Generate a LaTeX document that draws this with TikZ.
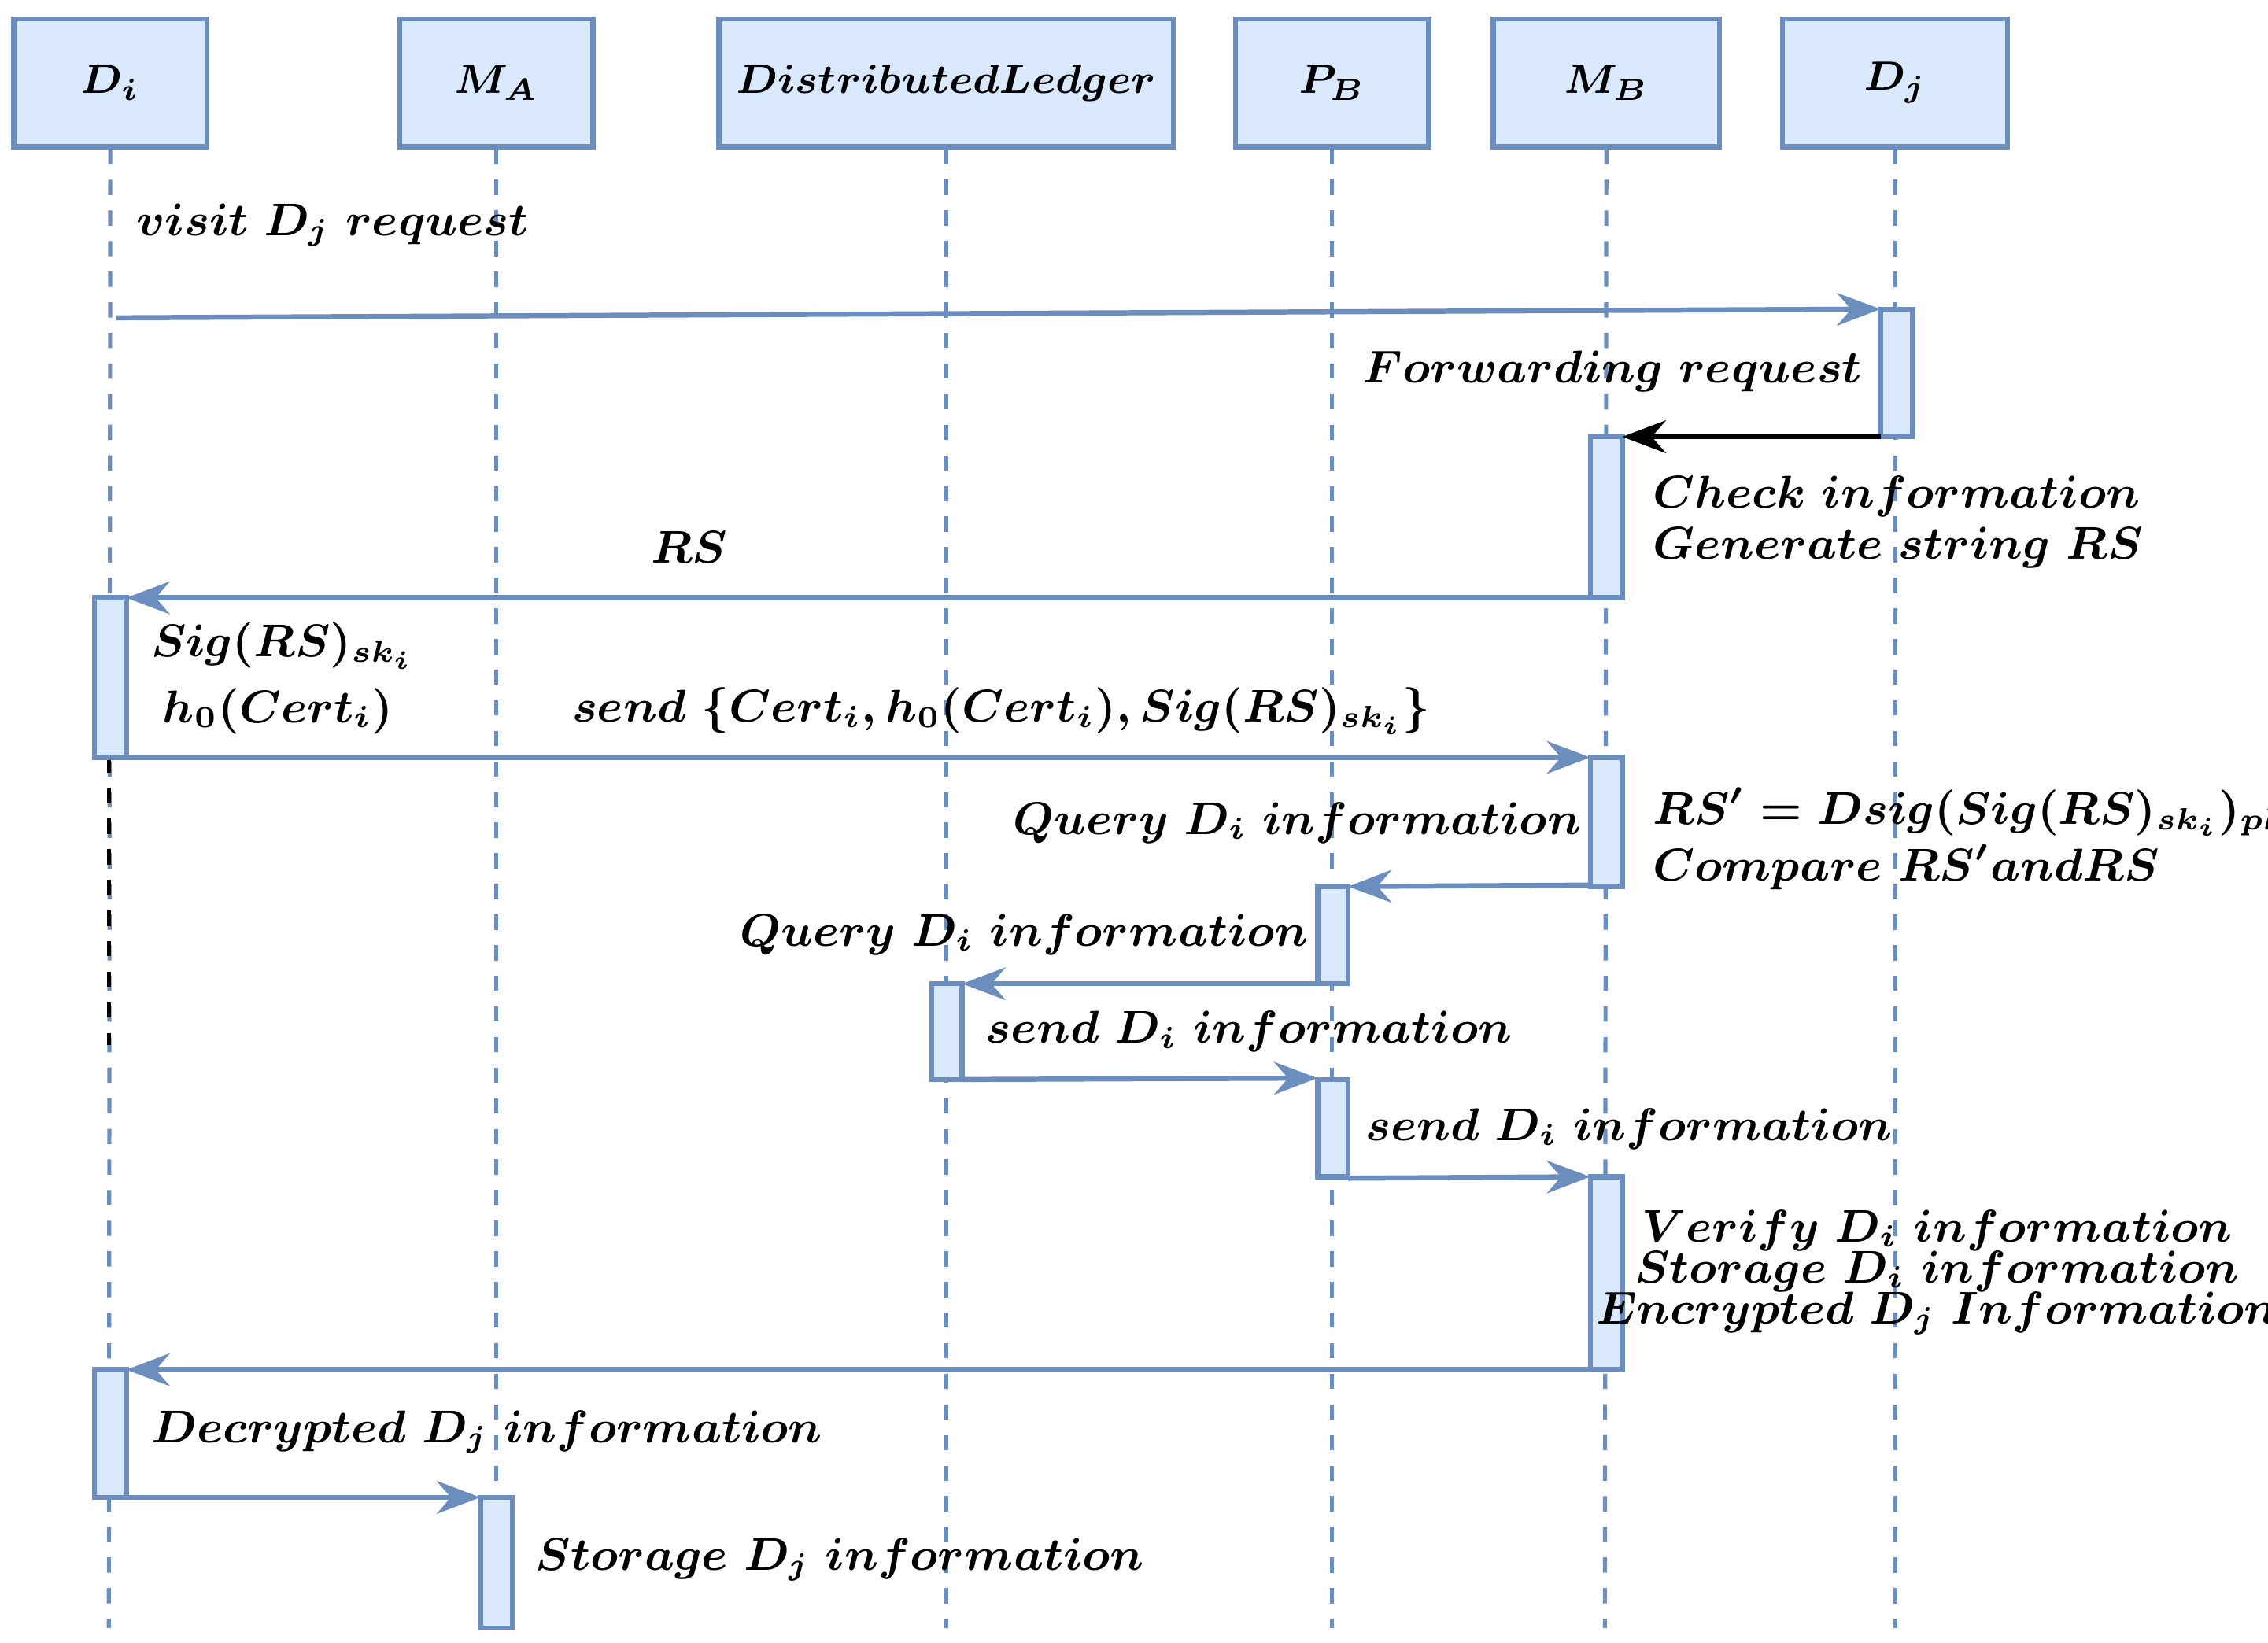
\documentclass[tikz,border=0pt]{standalone}
\usetikzlibrary{arrows.meta}
\definecolor{lineblue}{HTML}{6C8EBF}
\definecolor{fillblue}{HTML}{DAE8FC}
\tikzset{
  head/.style={draw=lineblue,fill=fillblue,line width=1pt,minimum height=0.88cm,font=\footnotesize\boldmath},
  life/.style={draw=lineblue,dashed,line width=0.8pt},
  act/.style={draw=lineblue,fill=fillblue,line width=1pt},
  msg/.style={draw=lineblue,line width=1pt,-{Stealth[length=3mm]}},
  lbl/.style={font=\small\boldmath,inner sep=1pt},
}
\begin{document}
\begin{tikzpicture}[x=0.01cm,y=-0.01cm]
        \useasboundingbox (0,0) rectangle (1563,1132);
        % heads
        \node[head,minimum width=1.33cm] (di) at (76,57) {$D_i$};
        \node[head,minimum width=1.33cm] (ma) at (342,57) {$M_A$};
        \node[head,minimum width=3.10cm] (dl) at (652,57) {$DistributedLedger$};
        \node[head,minimum width=1.33cm] (pb) at (918,57) {$P_B$};
        \node[head,minimum width=1.56cm] (mb) at (1107,57) {$M_B$};
        \node[head,minimum width=1.55cm] (dj) at (1306,57) {$D_j$};
        \foreach \n/\x in {di/75,ma/342,dl/652,pb/918,mb/1106,dj/1306} {
          \draw[life] (\n.south) -- (\x,1122);
        }
        \draw[dashed,line width=0.8pt] (75,522) -- (75,720);

        % activations
        \draw[act] (1296,213) rectangle (1318,301);
        \draw[act] (1096,301) rectangle (1118,412);
        \draw[act] (65,412) rectangle (87,522);
        \draw[act] (1096,522) rectangle (1118,611);
        \draw[act] (908,611) rectangle (929,678);
        \draw[act] (642,678) rectangle (663,744);
        \draw[act] (908,744) rectangle (929,811);
        \draw[act] (1096,811) rectangle (1118,944);
        \draw[act] (65,944) rectangle (87,1032);
        \draw[act] (331,1032) rectangle (353,1122);

        % messages
        \draw[msg] (80,219) -- (1296,213);
        \draw[line width=1pt,-{Stealth[length=3mm]}] (1296,301) -- (1118,301);
        \draw[msg] (1096,412) -- (87,412);
        \draw[msg] (87,522) -- (1096,522);
        \draw[msg] (1096,610) -- (929,611);
        \draw[msg] (908,678) -- (663,678);
        \draw[msg] (663,744) -- (908,743);
        \draw[msg] (929,812) -- (1096,811);
        \draw[msg] (1096,944) -- (87,944);
        \draw[msg] (87,1032) -- (331,1032);

        % labels
        \node[lbl,anchor=west] at (90,155) {$visit\ D_j\ request$};
        \node[lbl,anchor=west] at (935,256) {$Forwarding\ request$};
        \node[lbl,anchor=west,align=left] at (1135,360) {$Check\ information$\\[-1pt]$Generate\ string\ RS$};
        \node[lbl] at (475,377) {$RS$};
        \node[lbl,anchor=west] at (100,445) {$Sig(RS)_{sk_i}$};
        \node[lbl,anchor=west] at (108,490) {$h_0(Cert_i)$};
        \node[lbl] at (690,490) {$send\ \{Cert_i,h_0(Cert_i),Sig(RS)_{sk_i}\}$};
        \node[lbl,anchor=east] at (1094,567) {$Query\ D_i\ information$};
        \node[lbl,anchor=west,align=left] at (1135,578) {$RS'=Dsig(Sig(RS)_{sk_i})_{pk_i}$\\[0pt]$Compare\ RS'and RS$};
        \node[lbl,anchor=east] at (906,644) {$Query\ D_i\ information$};
        \node[lbl,anchor=west] at (675,711) {$send\ D_i\ information$};
        \node[lbl,anchor=west] at (937,778) {$send\ D_i\ information$};
        \node[lbl,align=center] at (1335,877) {$Verify\ D_i\ information$\\[-3pt]$Storage\ D_i\ information$\\[-3pt]$Encrypted\ D_j\ Information$};
        \node[lbl,anchor=west] at (100,987) {$Decrypted\ D_j\ information$};
        \node[lbl,anchor=west] at (365,1075) {$Storage\ D_j\ information$};
\end{tikzpicture}
\end{document}
